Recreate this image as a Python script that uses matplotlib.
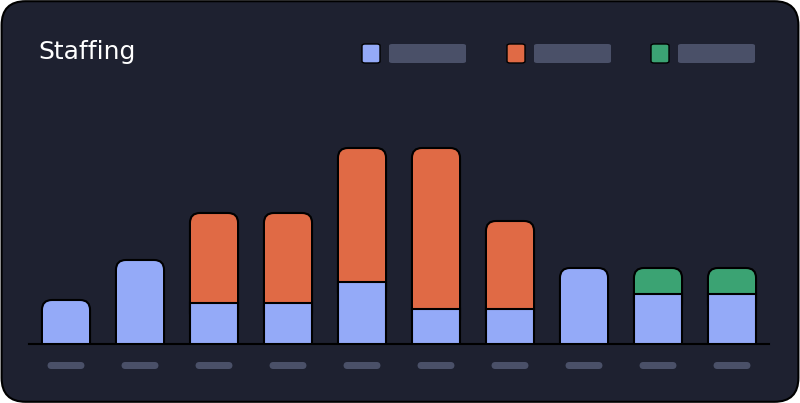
import matplotlib.pyplot as plt
from matplotlib.patches import FancyBboxPatch, Rectangle
from matplotlib.transforms import blended_transform_factory

# values in pixel-ish units
blue = [44, 84, 41, 41, 62, 35, 35, 76, 50, 50]
orange = [0, 0, 90, 90, 134, 161, 88, 0, 0, 0]
green = [0, 0, 0, 0, 0, 0, 0, 0, 26, 26]
BLUE, ORANGE, GREEN = "#94aaf8", "#e06a45", "#3ba373"
BG, GREY = "#1e2130", "#4a5068"

fig = plt.figure(figsize=(8, 4.03), dpi=100)
fig.patch.set_facecolor("white")
fig.patches.append(FancyBboxPatch((0.002, 0.003), 0.996, 0.994, boxstyle="round,pad=0,rounding_size=0.03",
                                  mutation_aspect=800 / 403, transform=fig.transFigure,
                                  facecolor=BG, edgecolor="black", lw=1.5, zorder=-5))
fig.text(38 / 800, 1 - 52 / 403, "Staffing", color="white", fontsize=18, va="center")
for x0, c in [(362, BLUE), (507, ORANGE), (651, GREEN)]:
    fig.patches.append(FancyBboxPatch((x0 / 800, 1 - 63 / 403), 18 / 800, 19 / 403,
                                      boxstyle="round,pad=0,rounding_size=0.004", transform=fig.transFigure,
                                      facecolor=c, edgecolor="black", lw=1))
    fig.patches.append(FancyBboxPatch(((x0 + 27) / 800, 1 - 63 / 403), 77 / 800, 19 / 403,
                                      boxstyle="round,pad=0,rounding_size=0.004", transform=fig.transFigure,
                                      facecolor=GREY, edgecolor="none"))

ax = fig.add_axes([29 / 800, 59 / 403, 740 / 800, 244 / 403])
ax.set_facecolor("none")
ax.set_xlim(-0.5, 9.5)
ax.set_ylim(0, 244)
ax.axis("off")

w = 0.65
r = 10 / 74
for i in range(len(blue)):
    segs = [(v, c) for v, c in [(blue[i], BLUE), (orange[i], ORANGE), (green[i], GREEN)] if v > 0]
    bases = []
    b = 0
    for v, c in segs:
        bases.append(b)
        b += v
    # top segment rounded, extended down so lower segments cover its bottom
    v, c = segs[-1]
    top = FancyBboxPatch((i - w / 2, bases[-1] - 20), w, v + 20,
                         boxstyle=f"round,pad=0,rounding_size={r}", mutation_aspect=74,
                         facecolor=c, edgecolor="black", lw=1.5)
    ax.add_patch(top)
    top.set_clip_box(ax.bbox)
    for (v, c), b0 in zip(segs[:-1], bases[:-1]):
        ax.add_patch(Rectangle((i - w / 2, b0 - 5), w, v + 5, facecolor=c, edgecolor="black", lw=1.5))

ax.axhline(0, color="black", lw=1.5, clip_on=False)
trans = blended_transform_factory(ax.transData, fig.transFigure)
for i in range(len(blue)):
    ax.add_patch(FancyBboxPatch((i - 0.25, 1 - 369 / 403), 0.5, 7 / 403,
                                boxstyle="round,pad=0,rounding_size=0.05", mutation_aspect=0.2,
                                transform=trans, facecolor=GREY, edgecolor="none", clip_on=False))

fig.savefig("out.png", dpi=100)
